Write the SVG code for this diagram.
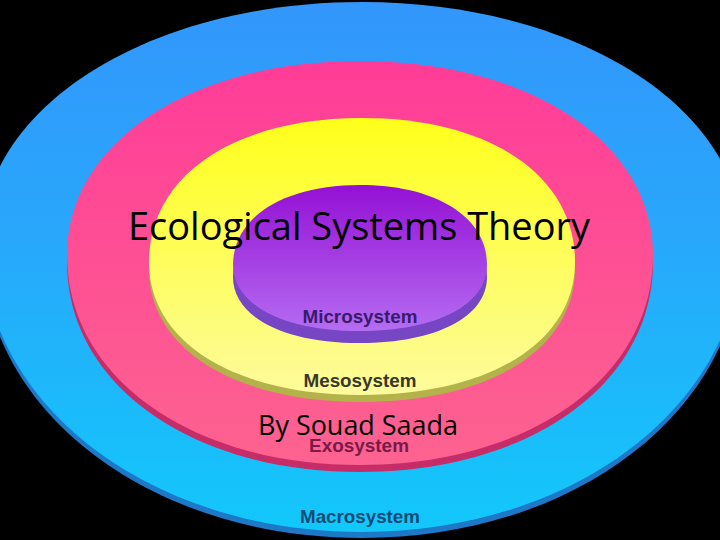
<svg xmlns="http://www.w3.org/2000/svg" width="720" height="540" viewBox="0 0 720 540">
  <defs>
    <linearGradient id="gBlue" x1="0" y1="0" x2="0" y2="1">
      <stop offset="0" stop-color="#3396fb"/>
      <stop offset="0.45" stop-color="#28a8fb"/>
      <stop offset="1" stop-color="#12c8fa"/>
    </linearGradient>
    <linearGradient id="gPink" x1="0" y1="0" x2="0" y2="1">
      <stop offset="0" stop-color="#ff3c98"/>
      <stop offset="1" stop-color="#fd6390"/>
    </linearGradient>
    <linearGradient id="gYellow" x1="0" y1="0" x2="0" y2="1">
      <stop offset="0" stop-color="#ffff1a"/>
      <stop offset="1" stop-color="#fdfb9c"/>
    </linearGradient>
    <linearGradient id="gPurple" x1="0" y1="0" x2="0" y2="1">
      <stop offset="0" stop-color="#9410d4"/>
      <stop offset="1" stop-color="#b56cf2"/>
    </linearGradient>
    <path id="shBlue" d="M -18,240 C -18,107 149,2 362,2 C 575,2 742,107 742,240 C 742,404 575,532 362,532 C 149,532 -18,404 -18,240 Z"/>
    <path id="shPink" d="M 67,255 C 67,142.5 190,61 360,61 C 530,61 653,142.5 653,255 C 653,377 530,465 360,465 C 190,465 67,377 67,255 Z"/>
    <path id="shYellow" d="M 149,262 C 149,175.6 234,118 362,118 C 490,118 575,175.6 575,262 C 575,342 490,395 362,395 C 234,395 149,342 149,262 Z"/>
    <path id="shPurple" d="M 233,265 C 233,217 284,185 360,185 C 436,185 487,217 487,265 C 487,305 436,331 360,331 C 284,331 233,305 233,265 Z"/>
  </defs>
  <style>
    .lbl { font-family: "Liberation Sans", Arial, sans-serif; font-weight: bold; font-size: 18px; text-anchor: middle; }
    .title { font-family: "Open Sans", "Liberation Sans", sans-serif; fill: #000; text-anchor: middle; }
  </style>
  <rect x="0" y="0" width="720" height="540" fill="#000"/>

  <g id="macrosystem">
    <use href="#shBlue" transform="translate(0,6)" fill="#1d78c8"/>
    <use href="#shBlue" fill="url(#gBlue)"/>
    <text class="lbl" x="360" y="523" textLength="120" lengthAdjust="spacingAndGlyphs" fill="#0f4c78">Macrosystem</text>
  </g>

  <g id="exosystem">
    <use href="#shPink" transform="translate(0,7)" fill="#c52c68"/>
    <use href="#shPink" fill="url(#gPink)"/>
    <text class="lbl" x="359" y="452" textLength="100" lengthAdjust="spacingAndGlyphs" fill="#7a1a48">Exosystem</text>
  </g>

  <g id="mesosystem">
    <use href="#shYellow" transform="translate(0,7)" fill="#b4b24a"/>
    <use href="#shYellow" fill="url(#gYellow)"/>
    <text class="lbl" x="360" y="387" textLength="113" lengthAdjust="spacingAndGlyphs" fill="#38382a">Mesosystem</text>
  </g>

  <g id="microsystem">
    <use href="#shPurple" transform="translate(0,12)" fill="#7646c4"/>
    <use href="#shPurple" fill="url(#gPurple)"/>
    <text class="lbl" x="360" y="323" textLength="115" lengthAdjust="spacingAndGlyphs" fill="#3a1a6c">Microsystem</text>
  </g>

  <g id="title">
    <text class="title" x="359" y="240" font-size="38" textLength="462" lengthAdjust="spacingAndGlyphs">Ecological Systems Theory</text>
  </g>
  <g id="subtitle">
    <text class="title" x="358" y="435" font-size="28" textLength="200" lengthAdjust="spacingAndGlyphs" fill="#1a0508">By Souad Saada</text>
  </g>
</svg>
